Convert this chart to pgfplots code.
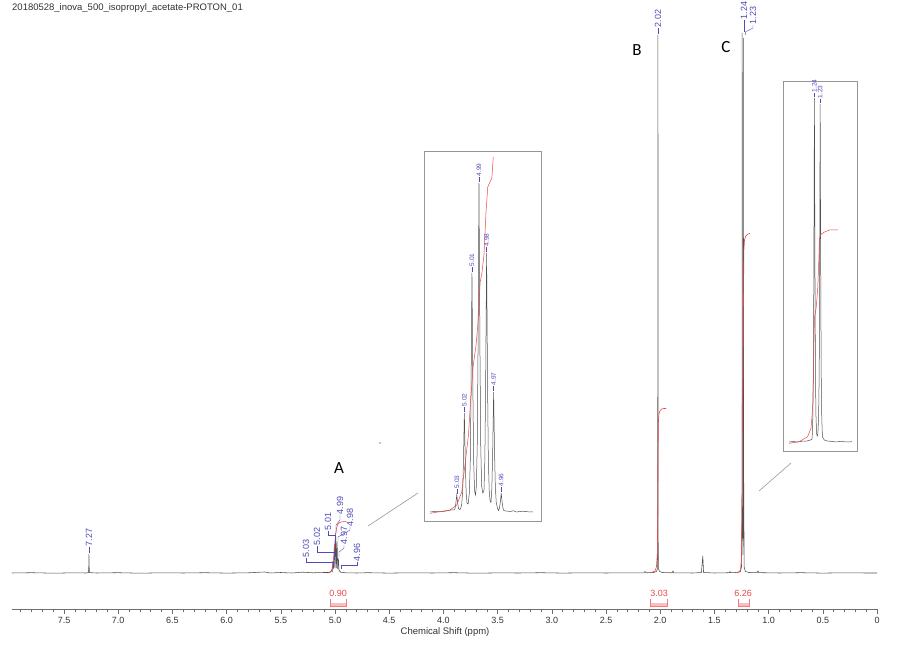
\documentclass[border=0pt]{standalone}
\usepackage{fontspec}
\setmainfont{Liberation Sans}
\newfontfamily\calib{Carlito}
\usepackage{pgfplots}
\pgfplotsset{compat=1.18}
\definecolor{specgray}{RGB}{80,80,80}
\definecolor{intred}{RGB}{235,70,70}
\definecolor{intpink}{RGB}{250,190,190}
\definecolor{lblblue}{RGB}{80,75,185}
\definecolor{boxgray}{RGB}{150,150,150}
\definecolor{axgray}{RGB}{110,110,110}
\definecolor{ticktext}{RGB}{50,50,50}
\begin{document}
\begin{tikzpicture}[x=1pt,y=1pt]
\useasboundingbox (0,0) rectangle (911,645);
\node[anchor=west, inner sep=0pt, text=ticktext, font=\fontsize{9.5}{11}\selectfont] at (12,637) {20180528\_inova\_500\_isopropyl\_acetate-PROTON\_01};
% ---------------- main axis ----------------
\begin{axis}[at={(12pt,36pt)}, anchor=south west, scale only axis,
  width=865pt, height=609pt,
  xmin=0, xmax=7.98, ymin=36, ymax=645, x dir=reverse,
  axis x line=bottom, axis y line=none,
  x axis line style={-, draw=axgray, line width=0.6pt},
  xtick={0,0.5,1,1.5,2,2.5,3,3.5,4,4.5,5,5.5,6,6.5,7,7.5},
  xticklabels={0,0.5,1.0,1.5,2.0,2.5,3.0,3.5,4.0,4.5,5.0,5.5,6.0,6.5,7.0,7.5},
  minor xtick={0.1,0.2,...,7.9},
  xtick align=outside, major tick length=5pt, minor tick length=3.5pt,
  tick style={draw=axgray, line width=0.5pt},
  xticklabel style={font=\fontsize{9}{10}\selectfont, text=ticktext},
  ytick=\empty, clip=false]
% spectrum
\addplot[specgray, line width=0.55pt] coordinates {
(7.98,72) (7.8,72.3) (7.6,71.8) (7.4,72.2) (7.3,72) (7.275,72.4) (7.271,80) (7.27,91) (7.269,80) (7.265,72.4)
(7.2,72) (7.0,72.3) (6.8,71.8) (6.6,72.2) (6.4,72) (6.2,72.3) (6.0,71.9) (5.8,72.2) (5.65,73) (5.6,72)
(5.5,72.5) (5.4,72) (5.3,72.8) (5.2,72.2) (5.1,72.5) (5.06,72.5) (5.045,73) (5.038,74)
(5.032,74.5) (5.0255,73.5) (5.019,84) (5.0125,76) (5.006,101) (5.0,77) (4.994,112) (4.9875,77)
(4.981,103.5) (4.975,76) (4.969,86.6) (4.9625,74) (4.956,74.3) (4.95,72.8) (4.9,72.2) (4.8,72)
(4.7,72.3) (4.5,71.9) (4.3,72.2) (4.1,72) (3.9,72.3) (3.7,71.8) (3.5,72.1) (3.3,72) (3.1,72.3) (2.9,71.9)
(2.7,72.2) (2.5,72) (2.3,72.2) (2.15,72.2) (2.14,73.5) (2.13,72.2) (2.06,72.5) (2.035,73.5) (2.026,76)
(2.023,110) (2.021,610) (2.019,110) (2.016,76) (2.005,73.5) (1.98,72.5) (1.89,72.2) (1.882,74) (1.875,72.2)
(1.7,72) (1.62,72.5) (1.607,89) (1.6,72.5) (1.5,72) (1.4,72.2) (1.36,72.3) (1.356,73.5) (1.35,72.3)
(1.3,72.5) (1.26,73.5) (1.25,78) (1.245,150) (1.2435,612) (1.242,150) (1.2372,90) (1.232,150)
(1.2309,607) (1.2295,150) (1.225,78) (1.215,73.5) (1.18,72.5) (1.105,72.3) (1.098,74) (1.09,72.3)
(1.0,72.2) (0.9,72) (0.7,72.3) (0.5,71.9) (0.3,72.2) (0.1,72) (0,72)};
% integrals
\addplot[intred, line width=0.6pt] coordinates {
(5.07,72) (5.05,72.3) (5.038,73.5) (5.028,76) (5.018,82) (5.01,90) (5.003,100) (4.995,110)
(4.987,116) (4.978,120) (4.965,122) (4.945,123) (4.92,123.3) (4.895,123.5)};
\addplot[intred, line width=0.6pt] coordinates {
(2.094,72) (2.07,73) (2.048,74) (2.035,78) (2.027,90) (2.022,140) (2.019,200) (2.016,225)
(2.010,232) (2.0,234.5) (1.985,236) (1.965,236.5) (1.946,236.5)};
\addplot[intred, line width=0.6pt] coordinates {
(1.29,72) (1.27,73) (1.258,76) (1.25,88) (1.245,150) (1.243,240) (1.240,250) (1.236,270)
(1.232,340) (1.228,395) (1.222,405) (1.21,409) (1.19,411) (1.172,411.5)};
\addplot[only marks, mark=*, mark size=0.5pt, boxgray] coordinates {(4.585,202)};
% integration brackets and values
\fill[intpink] (axis cs:5.046,39) rectangle (axis cs:4.898,42);
\draw[intred!70, line width=0.5pt] (axis cs:5.046,46) -- (axis cs:5.046,39) -- (axis cs:4.898,39) -- (axis cs:4.898,46);
\node[text=intred, font=\fontsize{9}{10}\selectfont] at (axis cs:4.972,52) {0.90};
\fill[intpink] (axis cs:2.094,39) rectangle (axis cs:1.937,42);
\draw[intred!70, line width=0.5pt] (axis cs:2.094,46) -- (axis cs:2.094,39) -- (axis cs:1.937,39) -- (axis cs:1.937,46);
\node[text=intred, font=\fontsize{9}{10}\selectfont] at (axis cs:2.011,52) {3.03};
\fill[intpink] (axis cs:1.282,39) rectangle (axis cs:1.181,42);
\draw[intred!70, line width=0.5pt] (axis cs:1.282,46) -- (axis cs:1.282,39) -- (axis cs:1.181,39) -- (axis cs:1.181,46);
\node[text=intred, font=\fontsize{9}{10}\selectfont] at (axis cs:1.236,52) {6.26};
% axis title
\node[text=ticktext, font=\fontsize{9.5}{11}\selectfont] at (axis cs:3.985,13) {Chemical Shift (ppm)};
% peak labels
\tikzset{plbl/.style={rotate=90, anchor=west, inner sep=0.5pt, text=lblblue, font=\fontsize{9}{10}\selectfont},
         pline/.style={draw=lblblue, line width=0.4pt}}
\draw[pline] (axis cs:7.27,92) -- (axis cs:7.27,98);
\node[plbl] at (axis cs:7.27,98) {7.27};
\draw[pline] (axis cs:2.021,611) -- (axis cs:2.021,617);
\node[plbl] at (axis cs:2.021,617) {2.02};
\draw[pline] (axis cs:1.227,613) -- (axis cs:1.227,625);
\node[plbl] at (axis cs:1.227,625) {1.24};
\draw[pline] (axis cs:1.144,620) -- (axis cs:1.144,617) -- (axis cs:1.215,613) -- (axis cs:1.215,610);
\node[plbl] at (axis cs:1.144,620) {1.23};
% septet labels
\draw[pline] (axis cs:5.2675,87) -- (axis cs:5.2675,83) -- (axis cs:5.0185,83) -- (axis cs:5.0185,77);
\node[plbl] at (axis cs:5.2675,87) {5.03};
\draw[pline] (axis cs:5.166,99) -- (axis cs:5.166,93) -- (axis cs:5.0092,93) -- (axis cs:5.0092,85);
\node[plbl] at (axis cs:5.166,99) {5.02};
\draw[pline] (axis cs:5.0646,114) -- (axis cs:5.0646,110) -- (axis cs:5.0,110) -- (axis cs:5.0,100);
\node[plbl] at (axis cs:5.0646,114) {5.01};
\draw[pline] (axis cs:4.9539,130) -- (axis cs:4.9539,125) -- (axis cs:4.9908,120) -- (axis cs:4.9908,112);
\node[plbl] at (axis cs:4.9539,130) {4.99};
\draw[pline] (axis cs:4.8616,118) -- (axis cs:4.8616,115) -- (axis cs:4.9723,108) -- (axis cs:4.9723,104);
\node[plbl] at (axis cs:4.8616,118) {4.98};
\draw[pline] (axis cs:4.917,100) -- (axis cs:4.917,97) -- (axis cs:4.963,93) -- (axis cs:4.963,88);
\node[plbl] at (axis cs:4.917,100) {4.97};
\draw[pline] (axis cs:4.797,83) -- (axis cs:4.797,80) -- (axis cs:4.945,80) -- (axis cs:4.945,76);
\node[plbl] at (axis cs:4.797,83) {4.96};
% letters
\node[font=\calib\fontsize{17}{20}\selectfont] at (axis cs:4.963,177) {A};
\node[font=\calib\fontsize{17}{20}\selectfont] at (axis cs:2.214,595) {B};
\node[font=\calib\fontsize{17}{20}\selectfont] at (axis cs:1.393,598) {C};
% connector lines
\draw[boxgray, line width=0.6pt] (axis cs:4.6956,119) -- (axis cs:4.2343,152);
\draw[boxgray, line width=0.6pt] (axis cs:1.0886,154) -- (axis cs:0.7934,182);
\end{axis}
% ---------------- inset 1 ----------------
\begin{axis}[at={(424pt,124pt)}, anchor=south west, scale only axis,
  width=117pt, height=370pt, xmin=4.888, xmax=5.088, x dir=reverse,
  ymin=0, ymax=370, xtick=\empty, ytick=\empty,
  axis line style={draw=boxgray, line width=0.8pt}, clip mode=individual]
\addplot[specgray, line width=0.5pt] coordinates {
(5.078,9) (5.07,9.5) (5.06,9.2) (5.05,10) (5.042,11)
(5.0365,11) (5.035,12.4) (5.0336,17.5) (5.032,26) (5.0304,17.5) (5.029,12.4) (5.0275,11.5)
(5.0255,12)
(5.0235,17) (5.022,28.8) (5.0206,58.5) (5.019,108) (5.0174,58.5) (5.016,28.8) (5.0145,18)
(5.0125,17)
(5.0105,28) (5.009,56.8) (5.0076,128.5) (5.006,248) (5.0044,128.5) (5.003,56.8) (5.0015,30)
(5.0,26)
(4.9985,35) (4.997,74.8) (4.9956,173.5) (4.994,338) (4.9924,173.5) (4.991,74.8) (4.9895,35)
(4.9875,28)
(4.9855,30) (4.984,60.8) (4.9826,138.5) (4.981,268) (4.9794,138.5) (4.978,60.8) (4.9765,30)
(4.975,20)
(4.9735,18.6) (4.972,33) (4.9706,69) (4.969,129) (4.9674,69) (4.966,33) (4.9645,18.6)
(4.9625,13)
(4.9605,10.5) (4.959,12.8) (4.9576,18.5) (4.956,28) (4.9544,18.5) (4.953,12.8) (4.9515,10.5)
(4.948,10) (4.94,9.5) (4.935,10.3) (4.93,9) (4.92,9.8) (4.91,9.2) (4.902,9)};
\addplot[intred, line width=0.5pt] coordinates {
(5.0776,7.7) (5.0435,11) (5.032,16) (5.0235,29) (5.018,56) (5.012,86) (5.008,123) (5.0037,156)
(4.999,176) (4.995,203) (4.992,239) (4.989,248) (4.9855,266) (4.982,309) (4.979,334) (4.976,338)
(4.972,343) (4.9696,364)};
\tikzset{ilbl/.style={rotate=90, anchor=west, inner sep=0.4pt, text=lblblue, font=\fontsize{6.5}{7}\selectfont},
         iline/.style={draw=lblblue, line width=0.4pt}}
\draw[iline] (axis cs:5.032,27) -- (axis cs:5.032,32); \node[ilbl] at (axis cs:5.032,32) {5.03};
\draw[iline] (axis cs:5.019,109) -- (axis cs:5.019,114); \node[ilbl] at (axis cs:5.019,114) {5.02};
\draw[iline] (axis cs:5.006,249) -- (axis cs:5.006,254); \node[ilbl] at (axis cs:5.006,254) {5.01};
\draw[iline] (axis cs:4.994,339) -- (axis cs:4.994,344); \node[ilbl] at (axis cs:4.994,344) {4.99};
\draw[iline] (axis cs:4.981,269) -- (axis cs:4.981,274); \node[ilbl] at (axis cs:4.981,274) {4.98};
\draw[iline] (axis cs:4.969,130) -- (axis cs:4.969,135); \node[ilbl] at (axis cs:4.969,135) {4.97};
\draw[iline] (axis cs:4.956,29) -- (axis cs:4.956,34); \node[ilbl] at (axis cs:4.956,34) {4.96};
\end{axis}
% ---------------- inset 2 ----------------
\begin{axis}[at={(783pt,194pt)}, anchor=south west, scale only axis,
  width=74pt, height=370pt, xmin=1.1506, xmax=1.312, x dir=reverse,
  ymin=0, ymax=370, xtick=\empty, ytick=\empty,
  axis line style={draw=boxgray, line width=0.8pt}, clip mode=individual]
\addplot[specgray, line width=0.5pt] coordinates {
(1.2988,9) (1.29,9.5) (1.28,9) (1.27,9.8) (1.26,10) (1.252,11) (1.2485,12) (1.247,33) (1.2457,78)
(1.2447,181) (1.2435,353) (1.2423,181) (1.2413,78) (1.24,33) (1.2385,17) (1.2372,15) (1.236,17)
(1.2344,32.7) (1.2331,76.6) (1.2321,178) (1.2309,347) (1.2297,178) (1.2287,76.6) (1.2274,32.7)
(1.226,14) (1.222,11) (1.215,10) (1.205,9.5) (1.195,9) (1.185,9.8) (1.175,9) (1.1617,9.3)};
\addplot[intred, line width=0.5pt] coordinates {
(1.2988,7.7) (1.2767,9.3) (1.2583,14.3) (1.2508,23) (1.2473,43) (1.2450,93) (1.2435,133) (1.2397,143)
(1.2362,163) (1.2340,189) (1.2324,213) (1.2287,217) (1.2214,219) (1.2103,221) (1.1920,221)};
\tikzset{ilbl/.style={rotate=90, anchor=west, inner sep=0.4pt, text=lblblue, font=\fontsize{6.5}{7}\selectfont},
         iline/.style={draw=lblblue, line width=0.4pt}}
\draw[iline] (axis cs:1.2435,354) -- (axis cs:1.2435,358); \node[ilbl] at (axis cs:1.2435,358) {1.24};
\draw[iline] (axis cs:1.2309,348) -- (axis cs:1.2309,352); \node[ilbl] at (axis cs:1.2309,352) {1.23};
\end{axis}
\end{tikzpicture}
\end{document}
